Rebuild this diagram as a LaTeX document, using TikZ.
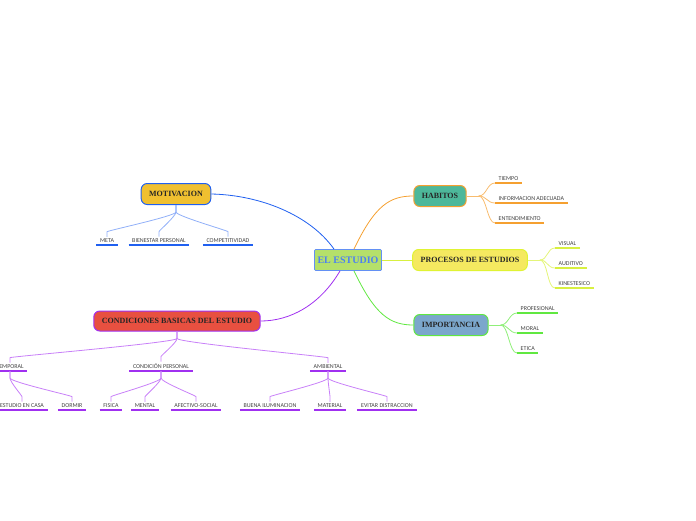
\documentclass[tikz,border=0pt]{standalone}
\usepackage{fontspec}
\setmainfont{Liberation Serif}
\newfontfamily\leaffont{Carlito}
\usetikzlibrary{calc}
\begin{document}
\begin{tikzpicture}[x=1pt,y=-1pt,
  main/.style={rounded corners=6pt,line width=1pt,minimum height=21pt,inner xsep=8pt,font=\fontsize{8}{9}\selectfont\bfseries,text=black!85},
  leaf/.style={font=\leaffont\fontsize{6}{7}\selectfont,text=black!75,inner xsep=3.5pt,inner ysep=2pt,anchor=south west},
  conn/.style={line width=0.8pt},
  ul/.style={line width=1.3pt}]
\useasboundingbox (0,0) rectangle (696,520);
\definecolor{cblue}{HTML}{2060F0}
\definecolor{corange}{HTML}{F5A030}
\definecolor{cyel}{HTML}{D8F040}
\definecolor{cgreen}{HTML}{60E840}
\definecolor{cpurp}{HTML}{A030F0}
\definecolor{clpurp}{HTML}{C880F8}
% main nodes
\node[draw=cblue!70,fill={rgb,255:red,181;green,224;blue,106},rounded corners=1pt,text=cblue!80,font=\fontsize{10}{11}\selectfont\bfseries,minimum height=21pt,inner xsep=3pt,line width=0.8pt] (root) at (348,260) {EL ESTUDIO};
\node[main,draw=cblue,fill={rgb,255:red,240;green,192;blue,48}] (mot) at (176,194) {MOTIVACION};
\node[main,draw=corange,fill={rgb,255:red,77;green,184;blue,154}] (hab) at (440,196) {HABITOS};
\node[main,draw=cyel!80!yellow,fill={rgb,255:red,245;green,233;blue,96}] (pro) at (470,260) {PROCESOS DE ESTUDIOS};
\node[main,draw=cgreen,fill={rgb,255:red,123;green,167;blue,204}] (imp) at (451,325) {IMPORTANCIA};
\node[main,draw=cpurp,fill={rgb,255:red,232;green,80;blue,64},minimum height=20pt] (con) at (177,321) {CONDICIONES BASICAS DEL ESTUDIO};
% root connectors
\draw[conn,cblue] ($(root.north)+(-14,0)$) .. controls (310,215) and (260,195) .. (mot.east);
\draw[conn,corange] ($(root.north)+(6,0)$) .. controls (375,205) and (390,196) .. (hab.west);
\draw[conn,cyel] (root.east) -- (pro.west);
\draw[conn,cgreen] ($(root.south)+(6,0)$) .. controls (375,315) and (390,325) .. (imp.west);
\draw[conn,cpurp] ($(root.south)+(-8,0)$) .. controls (320,305) and (290,321) .. (con.east);
% right leaves
\newcommand\rleaf[6]{% name, x, y, text, color, parent
  \node[leaf] (#1) at (#2,#3) {#4};
  \draw[ul,#5] (#1.south west) -- (#1.south east);
  \draw[conn,#5!70] (#6.east) ++(12,0) .. controls +(8,0) and +(-8,0) .. (#1.south west);
  \draw[conn,#5!70] (#6.east) -- ++(12,0);}
\rleaf{t1}{495}{183}{TIEMPO}{corange}{hab}
\rleaf{t2}{495}{203}{INFORMACION ADECUADA}{corange}{hab}
\rleaf{t3}{495}{223}{ENTENDIMIENTO}{corange}{hab}
\rleaf{p1}{555}{248}{VISUAL}{cyel}{pro}
\rleaf{p2}{555}{268}{AUDITIVO}{cyel}{pro}
\rleaf{p3}{555}{288}{KINESTESICO}{cyel}{pro}
\rleaf{i1}{517}{313}{PROFESIONAL}{cgreen}{imp}
\rleaf{i2}{517}{333}{MORAL}{cgreen}{imp}
\rleaf{i3}{517}{353}{ETICA}{cgreen}{imp}
% down leaves
\newcommand\dleaf[7]{% name, x center, y line, text, color, parent, line color
  \node[leaf,anchor=south] (#1) at (#2,#3) {#4};
  \draw[ul,#7] (#1.south west) -- (#1.south east);
  \draw[conn,#5] (#6.south) -- ++(0,7) .. controls +(0,4) and +(0,-1) .. ($(#1.north)+(0,-5)$) -- (#1.north);}
\dleaf{m1}{107}{245}{META}{cblue!50}{mot}{cblue}
\dleaf{m2}{159}{245}{BIENESTAR PERSONAL}{cblue!50}{mot}{cblue}
\dleaf{m3}{228}{245}{COMPETITIVIDAD}{cblue!50}{mot}{cblue}
\dleaf{c1}{10}{371}{TEMPORAL}{clpurp}{con}{cpurp}
\dleaf{c2}{161}{371}{CONDICIÓN PERSONAL}{clpurp}{con}{cpurp}
\dleaf{c3}{328}{371}{AMBIENTAL}{clpurp}{con}{cpurp}
\dleaf{d1}{22}{410}{ESTUDIO EN CASA}{clpurp}{c1}{cpurp}
\dleaf{d2}{72}{410}{DORMIR}{clpurp}{c1}{cpurp}
\dleaf{d3}{111}{410}{FISICA}{clpurp}{c2}{cpurp}
\dleaf{d4}{145}{410}{MENTAL}{clpurp}{c2}{cpurp}
\dleaf{d5}{196}{410}{AFECTIVO-SOCIAL}{clpurp}{c2}{cpurp}
\dleaf{d6}{270}{410}{BUENA ILUMINACION}{clpurp}{c3}{cpurp}
\dleaf{d7}{330}{410}{MATERIAL}{clpurp}{c3}{cpurp}
\dleaf{d8}{387}{410}{EVITAR DISTRACCION}{clpurp}{c3}{cpurp}
\end{tikzpicture}
\end{document}
